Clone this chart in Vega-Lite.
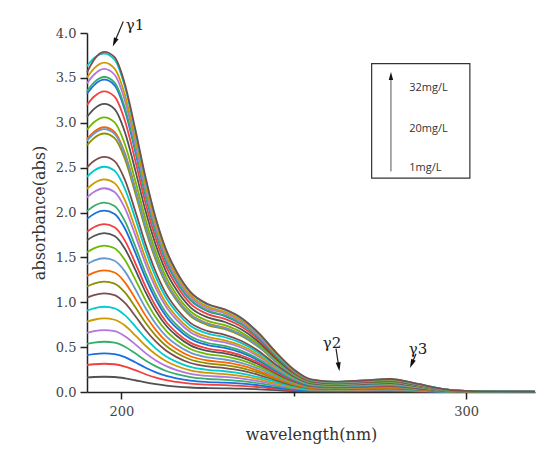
{
  "$schema": "https://vega.github.io/schema/vega-lite/v6.json",
  "width": 448,
  "height": 359,
  "autosize": {"type": "none"},
  "padding": {"left": 87, "top": 33, "right": 15, "bottom": 66},
  "background": "white",
  "config": {"view": {"stroke": null}},
  "datasets": {
    "spectra": [
{"c":1,"w":190,"a":0.162},{"c":1,"w":192,"a":0.167},{"c":1,"w":195,"a":0.170},{"c":1,"w":198,"a":0.167},{"c":1,"w":201,"a":0.153},{"c":1,"w":204,"a":0.131},{"c":1,"w":207,"a":0.107},{"c":1,"w":210,"a":0.087},{"c":1,"w":213,"a":0.071},{"c":1,"w":216,"a":0.060},{"c":1,"w":220,"a":0.050},{"c":1,"w":225,"a":0.044},{"c":1,"w":230,"a":0.041},{"c":1,"w":235,"a":0.037},{"c":1,"w":240,"a":0.029},{"c":1,"w":245,"a":0.020},{"c":1,"w":250,"a":0.011},{"c":1,"w":255,"a":0.006},{"c":1,"w":262,"a":0.005},{"c":1,"w":270,"a":0.006},{"c":1,"w":278,"a":0.006},{"c":1,"w":286,"a":0.004},{"c":1,"w":294,"a":0.001},{"c":1,"w":302,"a":0.000},{"c":1,"w":320,"a":0.000},
{"c":2,"w":190,"a":0.301},{"c":2,"w":192,"a":0.309},{"c":2,"w":195,"a":0.315},{"c":2,"w":198,"a":0.309},{"c":2,"w":201,"a":0.284},{"c":2,"w":204,"a":0.243},{"c":2,"w":207,"a":0.198},{"c":2,"w":210,"a":0.160},{"c":2,"w":213,"a":0.131},{"c":2,"w":216,"a":0.112},{"c":2,"w":220,"a":0.093},{"c":2,"w":225,"a":0.082},{"c":2,"w":230,"a":0.077},{"c":2,"w":235,"a":0.068},{"c":2,"w":240,"a":0.054},{"c":2,"w":245,"a":0.036},{"c":2,"w":250,"a":0.021},{"c":2,"w":255,"a":0.012},{"c":2,"w":262,"a":0.009},{"c":2,"w":270,"a":0.011},{"c":2,"w":278,"a":0.012},{"c":2,"w":286,"a":0.008},{"c":2,"w":294,"a":0.003},{"c":2,"w":302,"a":0.001},{"c":2,"w":320,"a":0.000},
{"c":3,"w":190,"a":0.411},{"c":3,"w":192,"a":0.422},{"c":3,"w":195,"a":0.430},{"c":3,"w":198,"a":0.422},{"c":3,"w":201,"a":0.388},{"c":3,"w":204,"a":0.331},{"c":3,"w":207,"a":0.270},{"c":3,"w":210,"a":0.219},{"c":3,"w":213,"a":0.179},{"c":3,"w":216,"a":0.152},{"c":3,"w":220,"a":0.126},{"c":3,"w":225,"a":0.111},{"c":3,"w":230,"a":0.104},{"c":3,"w":235,"a":0.093},{"c":3,"w":240,"a":0.074},{"c":3,"w":245,"a":0.049},{"c":3,"w":250,"a":0.028},{"c":3,"w":255,"a":0.016},{"c":3,"w":262,"a":0.013},{"c":3,"w":270,"a":0.015},{"c":3,"w":278,"a":0.016},{"c":3,"w":286,"a":0.010},{"c":3,"w":294,"a":0.003},{"c":3,"w":302,"a":0.001},{"c":3,"w":320,"a":0.000},
{"c":4,"w":190,"a":0.535},{"c":4,"w":192,"a":0.550},{"c":4,"w":195,"a":0.560},{"c":4,"w":198,"a":0.550},{"c":4,"w":201,"a":0.505},{"c":4,"w":204,"a":0.431},{"c":4,"w":207,"a":0.352},{"c":4,"w":210,"a":0.285},{"c":4,"w":213,"a":0.234},{"c":4,"w":216,"a":0.198},{"c":4,"w":220,"a":0.165},{"c":4,"w":225,"a":0.145},{"c":4,"w":230,"a":0.136},{"c":4,"w":235,"a":0.121},{"c":4,"w":240,"a":0.096},{"c":4,"w":245,"a":0.064},{"c":4,"w":250,"a":0.037},{"c":4,"w":255,"a":0.021},{"c":4,"w":262,"a":0.017},{"c":4,"w":270,"a":0.019},{"c":4,"w":278,"a":0.021},{"c":4,"w":286,"a":0.013},{"c":4,"w":294,"a":0.004},{"c":4,"w":302,"a":0.001},{"c":4,"w":320,"a":0.000},
{"c":5,"w":190,"a":0.659},{"c":5,"w":192,"a":0.678},{"c":5,"w":195,"a":0.690},{"c":5,"w":198,"a":0.678},{"c":5,"w":201,"a":0.622},{"c":5,"w":204,"a":0.531},{"c":5,"w":207,"a":0.433},{"c":5,"w":210,"a":0.351},{"c":5,"w":213,"a":0.288},{"c":5,"w":216,"a":0.244},{"c":5,"w":220,"a":0.203},{"c":5,"w":225,"a":0.179},{"c":5,"w":230,"a":0.168},{"c":5,"w":235,"a":0.149},{"c":5,"w":240,"a":0.119},{"c":5,"w":245,"a":0.079},{"c":5,"w":250,"a":0.046},{"c":5,"w":255,"a":0.026},{"c":5,"w":262,"a":0.021},{"c":5,"w":270,"a":0.023},{"c":5,"w":278,"a":0.026},{"c":5,"w":286,"a":0.017},{"c":5,"w":294,"a":0.006},{"c":5,"w":302,"a":0.002},{"c":5,"w":320,"a":0.001},
{"c":6,"w":190,"a":0.783},{"c":6,"w":192,"a":0.805},{"c":6,"w":195,"a":0.820},{"c":6,"w":198,"a":0.805},{"c":6,"w":201,"a":0.740},{"c":6,"w":204,"a":0.631},{"c":6,"w":207,"a":0.515},{"c":6,"w":210,"a":0.417},{"c":6,"w":213,"a":0.342},{"c":6,"w":216,"a":0.290},{"c":6,"w":220,"a":0.241},{"c":6,"w":225,"a":0.212},{"c":6,"w":230,"a":0.199},{"c":6,"w":235,"a":0.177},{"c":6,"w":240,"a":0.141},{"c":6,"w":245,"a":0.094},{"c":6,"w":250,"a":0.054},{"c":6,"w":255,"a":0.030},{"c":6,"w":262,"a":0.025},{"c":6,"w":270,"a":0.028},{"c":6,"w":278,"a":0.031},{"c":6,"w":286,"a":0.020},{"c":6,"w":294,"a":0.007},{"c":6,"w":302,"a":0.002},{"c":6,"w":320,"a":0.001},
{"c":7,"w":190,"a":0.907},{"c":7,"w":192,"a":0.933},{"c":7,"w":195,"a":0.950},{"c":7,"w":198,"a":0.933},{"c":7,"w":201,"a":0.857},{"c":7,"w":204,"a":0.732},{"c":7,"w":207,"a":0.597},{"c":7,"w":210,"a":0.484},{"c":7,"w":213,"a":0.396},{"c":7,"w":216,"a":0.336},{"c":7,"w":220,"a":0.279},{"c":7,"w":225,"a":0.246},{"c":7,"w":230,"a":0.231},{"c":7,"w":235,"a":0.205},{"c":7,"w":240,"a":0.163},{"c":7,"w":245,"a":0.109},{"c":7,"w":250,"a":0.063},{"c":7,"w":255,"a":0.035},{"c":7,"w":262,"a":0.029},{"c":7,"w":270,"a":0.032},{"c":7,"w":278,"a":0.036},{"c":7,"w":286,"a":0.023},{"c":7,"w":294,"a":0.008},{"c":7,"w":302,"a":0.002},{"c":7,"w":320,"a":0.001},
{"c":8,"w":190,"a":1.051},{"c":8,"w":192,"a":1.080},{"c":8,"w":195,"a":1.100},{"c":8,"w":198,"a":1.080},{"c":8,"w":201,"a":0.992},{"c":8,"w":204,"a":0.847},{"c":8,"w":207,"a":0.691},{"c":8,"w":210,"a":0.560},{"c":8,"w":213,"a":0.459},{"c":8,"w":216,"a":0.389},{"c":8,"w":220,"a":0.323},{"c":8,"w":225,"a":0.285},{"c":8,"w":230,"a":0.267},{"c":8,"w":235,"a":0.238},{"c":8,"w":240,"a":0.189},{"c":8,"w":245,"a":0.127},{"c":8,"w":250,"a":0.073},{"c":8,"w":255,"a":0.041},{"c":8,"w":262,"a":0.033},{"c":8,"w":270,"a":0.037},{"c":8,"w":278,"a":0.042},{"c":8,"w":286,"a":0.026},{"c":8,"w":294,"a":0.009},{"c":8,"w":302,"a":0.003},{"c":8,"w":320,"a":0.001},
{"c":9,"w":190,"a":1.175},{"c":9,"w":192,"a":1.208},{"c":9,"w":195,"a":1.230},{"c":9,"w":198,"a":1.208},{"c":9,"w":201,"a":1.109},{"c":9,"w":204,"a":0.947},{"c":9,"w":207,"a":0.772},{"c":9,"w":210,"a":0.626},{"c":9,"w":213,"a":0.513},{"c":9,"w":216,"a":0.435},{"c":9,"w":220,"a":0.362},{"c":9,"w":225,"a":0.319},{"c":9,"w":230,"a":0.299},{"c":9,"w":235,"a":0.266},{"c":9,"w":240,"a":0.212},{"c":9,"w":245,"a":0.141},{"c":9,"w":250,"a":0.081},{"c":9,"w":255,"a":0.046},{"c":9,"w":262,"a":0.037},{"c":9,"w":270,"a":0.042},{"c":9,"w":278,"a":0.047},{"c":9,"w":286,"a":0.030},{"c":9,"w":294,"a":0.010},{"c":9,"w":302,"a":0.003},{"c":9,"w":320,"a":0.001},
{"c":10,"w":190,"a":1.294},{"c":10,"w":192,"a":1.331},{"c":10,"w":195,"a":1.355},{"c":10,"w":198,"a":1.331},{"c":10,"w":201,"a":1.222},{"c":10,"w":204,"a":1.043},{"c":10,"w":207,"a":0.851},{"c":10,"w":210,"a":0.690},{"c":10,"w":213,"a":0.565},{"c":10,"w":216,"a":0.480},{"c":10,"w":220,"a":0.398},{"c":10,"w":225,"a":0.351},{"c":10,"w":230,"a":0.329},{"c":10,"w":235,"a":0.293},{"c":10,"w":240,"a":0.233},{"c":10,"w":245,"a":0.156},{"c":10,"w":250,"a":0.089},{"c":10,"w":255,"a":0.050},{"c":10,"w":262,"a":0.041},{"c":10,"w":270,"a":0.046},{"c":10,"w":278,"a":0.051},{"c":10,"w":286,"a":0.033},{"c":10,"w":294,"a":0.011},{"c":10,"w":302,"a":0.004},{"c":10,"w":320,"a":0.001},
{"c":11,"w":190,"a":1.423},{"c":11,"w":192,"a":1.463},{"c":11,"w":195,"a":1.490},{"c":11,"w":198,"a":1.463},{"c":11,"w":201,"a":1.344},{"c":11,"w":204,"a":1.147},{"c":11,"w":207,"a":0.936},{"c":11,"w":210,"a":0.758},{"c":11,"w":213,"a":0.621},{"c":11,"w":216,"a":0.527},{"c":11,"w":220,"a":0.438},{"c":11,"w":225,"a":0.386},{"c":11,"w":230,"a":0.362},{"c":11,"w":235,"a":0.322},{"c":11,"w":240,"a":0.256},{"c":11,"w":245,"a":0.171},{"c":11,"w":250,"a":0.098},{"c":11,"w":255,"a":0.055},{"c":11,"w":262,"a":0.045},{"c":11,"w":270,"a":0.051},{"c":11,"w":278,"a":0.057},{"c":11,"w":286,"a":0.036},{"c":11,"w":294,"a":0.012},{"c":11,"w":302,"a":0.004},{"c":11,"w":320,"a":0.001},
{"c":12,"w":190,"a":1.557},{"c":12,"w":192,"a":1.601},{"c":12,"w":195,"a":1.630},{"c":12,"w":198,"a":1.601},{"c":12,"w":201,"a":1.470},{"c":12,"w":204,"a":1.255},{"c":12,"w":207,"a":1.024},{"c":12,"w":210,"a":0.830},{"c":12,"w":213,"a":0.680},{"c":12,"w":216,"a":0.577},{"c":12,"w":220,"a":0.479},{"c":12,"w":225,"a":0.422},{"c":12,"w":230,"a":0.396},{"c":12,"w":235,"a":0.352},{"c":12,"w":240,"a":0.280},{"c":12,"w":245,"a":0.187},{"c":12,"w":250,"a":0.108},{"c":12,"w":255,"a":0.060},{"c":12,"w":262,"a":0.049},{"c":12,"w":270,"a":0.055},{"c":12,"w":278,"a":0.062},{"c":12,"w":286,"a":0.039},{"c":12,"w":294,"a":0.013},{"c":12,"w":302,"a":0.004},{"c":12,"w":320,"a":0.001},
{"c":13,"w":190,"a":1.690},{"c":13,"w":192,"a":1.738},{"c":13,"w":195,"a":1.770},{"c":13,"w":198,"a":1.738},{"c":13,"w":201,"a":1.597},{"c":13,"w":204,"a":1.363},{"c":13,"w":207,"a":1.112},{"c":13,"w":210,"a":0.901},{"c":13,"w":213,"a":0.738},{"c":13,"w":216,"a":0.627},{"c":13,"w":220,"a":0.520},{"c":13,"w":225,"a":0.458},{"c":13,"w":230,"a":0.430},{"c":13,"w":235,"a":0.382},{"c":13,"w":240,"a":0.304},{"c":13,"w":245,"a":0.204},{"c":13,"w":250,"a":0.117},{"c":13,"w":255,"a":0.065},{"c":13,"w":262,"a":0.053},{"c":13,"w":270,"a":0.060},{"c":13,"w":278,"a":0.067},{"c":13,"w":286,"a":0.042},{"c":13,"w":294,"a":0.014},{"c":13,"w":302,"a":0.005},{"c":13,"w":320,"a":0.001},
{"c":14,"w":190,"a":1.786},{"c":14,"w":192,"a":1.836},{"c":14,"w":195,"a":1.870},{"c":14,"w":198,"a":1.836},{"c":14,"w":201,"a":1.687},{"c":14,"w":204,"a":1.440},{"c":14,"w":207,"a":1.174},{"c":14,"w":210,"a":0.952},{"c":14,"w":213,"a":0.780},{"c":14,"w":216,"a":0.662},{"c":14,"w":220,"a":0.550},{"c":14,"w":225,"a":0.484},{"c":14,"w":230,"a":0.454},{"c":14,"w":235,"a":0.404},{"c":14,"w":240,"a":0.322},{"c":14,"w":245,"a":0.215},{"c":14,"w":250,"a":0.123},{"c":14,"w":255,"a":0.069},{"c":14,"w":262,"a":0.056},{"c":14,"w":270,"a":0.064},{"c":14,"w":278,"a":0.071},{"c":14,"w":286,"a":0.045},{"c":14,"w":294,"a":0.015},{"c":14,"w":302,"a":0.005},{"c":14,"w":320,"a":0.001},
{"c":15,"w":190,"a":1.929},{"c":15,"w":192,"a":1.984},{"c":15,"w":195,"a":2.020},{"c":15,"w":198,"a":1.984},{"c":15,"w":201,"a":1.822},{"c":15,"w":204,"a":1.555},{"c":15,"w":207,"a":1.269},{"c":15,"w":210,"a":1.028},{"c":15,"w":213,"a":0.842},{"c":15,"w":216,"a":0.715},{"c":15,"w":220,"a":0.594},{"c":15,"w":225,"a":0.523},{"c":15,"w":230,"a":0.491},{"c":15,"w":235,"a":0.436},{"c":15,"w":240,"a":0.347},{"c":15,"w":245,"a":0.232},{"c":15,"w":250,"a":0.133},{"c":15,"w":255,"a":0.075},{"c":15,"w":262,"a":0.061},{"c":15,"w":270,"a":0.069},{"c":15,"w":278,"a":0.077},{"c":15,"w":286,"a":0.048},{"c":15,"w":294,"a":0.016},{"c":15,"w":302,"a":0.005},{"c":15,"w":320,"a":0.002},
{"c":16,"w":190,"a":2.015},{"c":16,"w":192,"a":2.072},{"c":16,"w":195,"a":2.110},{"c":16,"w":198,"a":2.072},{"c":16,"w":201,"a":1.903},{"c":16,"w":204,"a":1.625},{"c":16,"w":207,"a":1.325},{"c":16,"w":210,"a":1.074},{"c":16,"w":213,"a":0.880},{"c":16,"w":216,"a":0.747},{"c":16,"w":220,"a":0.620},{"c":16,"w":225,"a":0.546},{"c":16,"w":230,"a":0.513},{"c":16,"w":235,"a":0.456},{"c":16,"w":240,"a":0.363},{"c":16,"w":245,"a":0.243},{"c":16,"w":250,"a":0.139},{"c":16,"w":255,"a":0.078},{"c":16,"w":262,"a":0.063},{"c":16,"w":270,"a":0.072},{"c":16,"w":278,"a":0.080},{"c":16,"w":286,"a":0.051},{"c":16,"w":294,"a":0.017},{"c":16,"w":302,"a":0.005},{"c":16,"w":320,"a":0.002},
{"c":17,"w":190,"a":2.168},{"c":17,"w":192,"a":2.229},{"c":17,"w":195,"a":2.270},{"c":17,"w":198,"a":2.229},{"c":17,"w":201,"a":2.048},{"c":17,"w":204,"a":1.748},{"c":17,"w":207,"a":1.426},{"c":17,"w":210,"a":1.155},{"c":17,"w":213,"a":0.947},{"c":17,"w":216,"a":0.804},{"c":17,"w":220,"a":0.667},{"c":17,"w":225,"a":0.588},{"c":17,"w":230,"a":0.552},{"c":17,"w":235,"a":0.490},{"c":17,"w":240,"a":0.390},{"c":17,"w":245,"a":0.261},{"c":17,"w":250,"a":0.150},{"c":17,"w":255,"a":0.084},{"c":17,"w":262,"a":0.068},{"c":17,"w":270,"a":0.077},{"c":17,"w":278,"a":0.086},{"c":17,"w":286,"a":0.054},{"c":17,"w":294,"a":0.018},{"c":17,"w":302,"a":0.006},{"c":17,"w":320,"a":0.002},
{"c":18,"w":190,"a":2.263},{"c":18,"w":192,"a":2.327},{"c":18,"w":195,"a":2.370},{"c":18,"w":198,"a":2.327},{"c":18,"w":201,"a":2.138},{"c":18,"w":204,"a":1.825},{"c":18,"w":207,"a":1.488},{"c":18,"w":210,"a":1.206},{"c":18,"w":213,"a":0.988},{"c":18,"w":216,"a":0.839},{"c":18,"w":220,"a":0.697},{"c":18,"w":225,"a":0.614},{"c":18,"w":230,"a":0.576},{"c":18,"w":235,"a":0.512},{"c":18,"w":240,"a":0.408},{"c":18,"w":245,"a":0.273},{"c":18,"w":250,"a":0.156},{"c":18,"w":255,"a":0.088},{"c":18,"w":262,"a":0.071},{"c":18,"w":270,"a":0.081},{"c":18,"w":278,"a":0.090},{"c":18,"w":286,"a":0.057},{"c":18,"w":294,"a":0.019},{"c":18,"w":302,"a":0.006},{"c":18,"w":320,"a":0.002},
{"c":19,"w":190,"a":2.397},{"c":19,"w":192,"a":2.465},{"c":19,"w":195,"a":2.510},{"c":19,"w":198,"a":2.465},{"c":19,"w":201,"a":2.264},{"c":19,"w":204,"a":1.933},{"c":19,"w":207,"a":1.576},{"c":19,"w":210,"a":1.278},{"c":19,"w":213,"a":1.047},{"c":19,"w":216,"a":0.889},{"c":19,"w":220,"a":0.738},{"c":19,"w":225,"a":0.650},{"c":19,"w":230,"a":0.610},{"c":19,"w":235,"a":0.542},{"c":19,"w":240,"a":0.432},{"c":19,"w":245,"a":0.289},{"c":19,"w":250,"a":0.166},{"c":19,"w":255,"a":0.093},{"c":19,"w":262,"a":0.075},{"c":19,"w":270,"a":0.085},{"c":19,"w":278,"a":0.095},{"c":19,"w":286,"a":0.060},{"c":19,"w":294,"a":0.020},{"c":19,"w":302,"a":0.007},{"c":19,"w":320,"a":0.002},
{"c":20,"w":190,"a":2.502},{"c":20,"w":192,"a":2.573},{"c":20,"w":195,"a":2.620},{"c":20,"w":198,"a":2.573},{"c":20,"w":201,"a":2.363},{"c":20,"w":204,"a":2.017},{"c":20,"w":207,"a":1.645},{"c":20,"w":210,"a":1.334},{"c":20,"w":213,"a":1.093},{"c":20,"w":216,"a":0.927},{"c":20,"w":220,"a":0.770},{"c":20,"w":225,"a":0.679},{"c":20,"w":230,"a":0.637},{"c":20,"w":235,"a":0.566},{"c":20,"w":240,"a":0.451},{"c":20,"w":245,"a":0.301},{"c":20,"w":250,"a":0.173},{"c":20,"w":255,"a":0.097},{"c":20,"w":262,"a":0.079},{"c":20,"w":270,"a":0.089},{"c":20,"w":278,"a":0.100},{"c":20,"w":286,"a":0.063},{"c":20,"w":294,"a":0.021},{"c":20,"w":302,"a":0.007},{"c":20,"w":320,"a":0.002},
{"c":21,"w":190,"a":2.750},{"c":21,"w":192,"a":2.828},{"c":21,"w":195,"a":2.880},{"c":21,"w":198,"a":2.828},{"c":21,"w":201,"a":2.598},{"c":21,"w":204,"a":2.218},{"c":21,"w":207,"a":1.809},{"c":21,"w":210,"a":1.466},{"c":21,"w":213,"a":1.201},{"c":21,"w":216,"a":1.020},{"c":21,"w":220,"a":0.847},{"c":21,"w":225,"a":0.746},{"c":21,"w":230,"a":0.700},{"c":21,"w":235,"a":0.622},{"c":21,"w":240,"a":0.495},{"c":21,"w":245,"a":0.331},{"c":21,"w":250,"a":0.190},{"c":21,"w":255,"a":0.107},{"c":21,"w":262,"a":0.086},{"c":21,"w":270,"a":0.098},{"c":21,"w":278,"a":0.109},{"c":21,"w":286,"a":0.069},{"c":21,"w":294,"a":0.023},{"c":21,"w":302,"a":0.007},{"c":21,"w":320,"a":0.002},
{"c":22,"w":190,"a":2.817},{"c":22,"w":192,"a":2.897},{"c":22,"w":195,"a":2.950},{"c":22,"w":198,"a":2.897},{"c":22,"w":201,"a":2.661},{"c":22,"w":204,"a":2.272},{"c":22,"w":207,"a":1.853},{"c":22,"w":210,"a":1.502},{"c":22,"w":213,"a":1.230},{"c":22,"w":216,"a":1.044},{"c":22,"w":220,"a":0.867},{"c":22,"w":225,"a":0.764},{"c":22,"w":230,"a":0.717},{"c":22,"w":235,"a":0.637},{"c":22,"w":240,"a":0.507},{"c":22,"w":245,"a":0.339},{"c":22,"w":250,"a":0.195},{"c":22,"w":255,"a":0.109},{"c":22,"w":262,"a":0.089},{"c":22,"w":270,"a":0.100},{"c":22,"w":278,"a":0.112},{"c":22,"w":286,"a":0.071},{"c":22,"w":294,"a":0.024},{"c":22,"w":302,"a":0.008},{"c":22,"w":320,"a":0.002},
{"c":23,"w":190,"a":2.798},{"c":23,"w":192,"a":2.877},{"c":23,"w":195,"a":2.930},{"c":23,"w":198,"a":2.877},{"c":23,"w":201,"a":2.643},{"c":23,"w":204,"a":2.256},{"c":23,"w":207,"a":1.840},{"c":23,"w":210,"a":1.491},{"c":23,"w":213,"a":1.222},{"c":23,"w":216,"a":1.037},{"c":23,"w":220,"a":0.861},{"c":23,"w":225,"a":0.759},{"c":23,"w":230,"a":0.712},{"c":23,"w":235,"a":0.633},{"c":23,"w":240,"a":0.504},{"c":23,"w":245,"a":0.337},{"c":23,"w":250,"a":0.193},{"c":23,"w":255,"a":0.108},{"c":23,"w":262,"a":0.088},{"c":23,"w":270,"a":0.100},{"c":23,"w":278,"a":0.111},{"c":23,"w":286,"a":0.070},{"c":23,"w":294,"a":0.023},{"c":23,"w":302,"a":0.008},{"c":23,"w":320,"a":0.002},
{"c":24,"w":190,"a":2.922},{"c":24,"w":192,"a":3.005},{"c":24,"w":195,"a":3.060},{"c":24,"w":198,"a":3.005},{"c":24,"w":201,"a":2.760},{"c":24,"w":204,"a":2.356},{"c":24,"w":207,"a":1.922},{"c":24,"w":210,"a":1.558},{"c":24,"w":213,"a":1.276},{"c":24,"w":216,"a":1.083},{"c":24,"w":220,"a":0.900},{"c":24,"w":225,"a":0.793},{"c":24,"w":230,"a":0.744},{"c":24,"w":235,"a":0.661},{"c":24,"w":240,"a":0.526},{"c":24,"w":245,"a":0.352},{"c":24,"w":250,"a":0.202},{"c":24,"w":255,"a":0.113},{"c":24,"w":262,"a":0.092},{"c":24,"w":270,"a":0.104},{"c":24,"w":278,"a":0.116},{"c":24,"w":286,"a":0.073},{"c":24,"w":294,"a":0.024},{"c":24,"w":302,"a":0.008},{"c":24,"w":320,"a":0.002},
{"c":25,"w":190,"a":3.066},{"c":25,"w":192,"a":3.152},{"c":25,"w":195,"a":3.210},{"c":25,"w":198,"a":3.152},{"c":25,"w":201,"a":2.895},{"c":25,"w":204,"a":2.472},{"c":25,"w":207,"a":2.016},{"c":25,"w":210,"a":1.634},{"c":25,"w":213,"a":1.339},{"c":25,"w":216,"a":1.136},{"c":25,"w":220,"a":0.944},{"c":25,"w":225,"a":0.831},{"c":25,"w":230,"a":0.780},{"c":25,"w":235,"a":0.693},{"c":25,"w":240,"a":0.552},{"c":25,"w":245,"a":0.369},{"c":25,"w":250,"a":0.212},{"c":25,"w":255,"a":0.119},{"c":25,"w":262,"a":0.096},{"c":25,"w":270,"a":0.109},{"c":25,"w":278,"a":0.122},{"c":25,"w":286,"a":0.077},{"c":25,"w":294,"a":0.026},{"c":25,"w":302,"a":0.008},{"c":25,"w":320,"a":0.003},
{"c":26,"w":190,"a":3.199},{"c":26,"w":192,"a":3.290},{"c":26,"w":195,"a":3.350},{"c":26,"w":198,"a":3.290},{"c":26,"w":201,"a":3.022},{"c":26,"w":204,"a":2.580},{"c":26,"w":207,"a":2.104},{"c":26,"w":210,"a":1.705},{"c":26,"w":213,"a":1.397},{"c":26,"w":216,"a":1.186},{"c":26,"w":220,"a":0.985},{"c":26,"w":225,"a":0.868},{"c":26,"w":230,"a":0.814},{"c":26,"w":235,"a":0.724},{"c":26,"w":240,"a":0.576},{"c":26,"w":245,"a":0.385},{"c":26,"w":250,"a":0.221},{"c":26,"w":255,"a":0.124},{"c":26,"w":262,"a":0.101},{"c":26,"w":270,"a":0.114},{"c":26,"w":278,"a":0.127},{"c":26,"w":286,"a":0.080},{"c":26,"w":294,"a":0.027},{"c":26,"w":302,"a":0.009},{"c":26,"w":320,"a":0.003},
{"c":27,"w":190,"a":3.323},{"c":27,"w":192,"a":3.417},{"c":27,"w":195,"a":3.480},{"c":27,"w":198,"a":3.417},{"c":27,"w":201,"a":3.139},{"c":27,"w":204,"a":2.680},{"c":27,"w":207,"a":2.185},{"c":27,"w":210,"a":1.771},{"c":27,"w":213,"a":1.451},{"c":27,"w":216,"a":1.232},{"c":27,"w":220,"a":1.023},{"c":27,"w":225,"a":0.901},{"c":27,"w":230,"a":0.846},{"c":27,"w":235,"a":0.752},{"c":27,"w":240,"a":0.599},{"c":27,"w":245,"a":0.400},{"c":27,"w":250,"a":0.230},{"c":27,"w":255,"a":0.129},{"c":27,"w":262,"a":0.104},{"c":27,"w":270,"a":0.118},{"c":27,"w":278,"a":0.132},{"c":27,"w":286,"a":0.084},{"c":27,"w":294,"a":0.028},{"c":27,"w":302,"a":0.009},{"c":27,"w":320,"a":0.003},
{"c":28,"w":190,"a":3.352},{"c":28,"w":192,"a":3.447},{"c":28,"w":195,"a":3.510},{"c":28,"w":198,"a":3.447},{"c":28,"w":201,"a":3.166},{"c":28,"w":204,"a":2.703},{"c":28,"w":207,"a":2.204},{"c":28,"w":210,"a":1.787},{"c":28,"w":213,"a":1.464},{"c":28,"w":216,"a":1.243},{"c":28,"w":220,"a":1.032},{"c":28,"w":225,"a":0.909},{"c":28,"w":230,"a":0.853},{"c":28,"w":235,"a":0.758},{"c":28,"w":240,"a":0.604},{"c":28,"w":245,"a":0.404},{"c":28,"w":250,"a":0.232},{"c":28,"w":255,"a":0.130},{"c":28,"w":262,"a":0.105},{"c":28,"w":270,"a":0.119},{"c":28,"w":278,"a":0.133},{"c":28,"w":286,"a":0.084},{"c":28,"w":294,"a":0.028},{"c":28,"w":302,"a":0.009},{"c":28,"w":320,"a":0.003},
{"c":29,"w":190,"a":3.438},{"c":29,"w":192,"a":3.535},{"c":29,"w":195,"a":3.600},{"c":29,"w":198,"a":3.535},{"c":29,"w":201,"a":3.247},{"c":29,"w":204,"a":2.772},{"c":29,"w":207,"a":2.261},{"c":29,"w":210,"a":1.832},{"c":29,"w":213,"a":1.501},{"c":29,"w":216,"a":1.274},{"c":29,"w":220,"a":1.058},{"c":29,"w":225,"a":0.932},{"c":29,"w":230,"a":0.875},{"c":29,"w":235,"a":0.778},{"c":29,"w":240,"a":0.619},{"c":29,"w":245,"a":0.414},{"c":29,"w":250,"a":0.238},{"c":29,"w":255,"a":0.133},{"c":29,"w":262,"a":0.108},{"c":29,"w":270,"a":0.122},{"c":29,"w":278,"a":0.137},{"c":29,"w":286,"a":0.086},{"c":29,"w":294,"a":0.029},{"c":29,"w":302,"a":0.009},{"c":29,"w":320,"a":0.003},
{"c":30,"w":190,"a":3.505},{"c":30,"w":192,"a":3.604},{"c":30,"w":195,"a":3.670},{"c":30,"w":198,"a":3.604},{"c":30,"w":201,"a":3.310},{"c":30,"w":204,"a":2.826},{"c":30,"w":207,"a":2.305},{"c":30,"w":210,"a":1.868},{"c":30,"w":213,"a":1.530},{"c":30,"w":216,"a":1.299},{"c":30,"w":220,"a":1.079},{"c":30,"w":225,"a":0.951},{"c":30,"w":230,"a":0.892},{"c":30,"w":235,"a":0.793},{"c":30,"w":240,"a":0.631},{"c":30,"w":245,"a":0.422},{"c":30,"w":250,"a":0.242},{"c":30,"w":255,"a":0.136},{"c":30,"w":262,"a":0.110},{"c":30,"w":270,"a":0.125},{"c":30,"w":278,"a":0.139},{"c":30,"w":286,"a":0.088},{"c":30,"w":294,"a":0.029},{"c":30,"w":302,"a":0.010},{"c":30,"w":320,"a":0.003},
{"c":31,"w":190,"a":3.630},{"c":31,"w":192,"a":3.720},{"c":31,"w":195,"a":3.770},{"c":31,"w":198,"a":3.702},{"c":31,"w":201,"a":3.401},{"c":31,"w":204,"a":2.903},{"c":31,"w":207,"a":2.368},{"c":31,"w":210,"a":1.919},{"c":31,"w":213,"a":1.572},{"c":31,"w":216,"a":1.335},{"c":31,"w":220,"a":1.108},{"c":31,"w":225,"a":0.976},{"c":31,"w":230,"a":0.916},{"c":31,"w":235,"a":0.814},{"c":31,"w":240,"a":0.648},{"c":31,"w":245,"a":0.434},{"c":31,"w":250,"a":0.249},{"c":31,"w":255,"a":0.139},{"c":31,"w":262,"a":0.113},{"c":31,"w":270,"a":0.128},{"c":31,"w":278,"a":0.143},{"c":31,"w":286,"a":0.090},{"c":31,"w":294,"a":0.030},{"c":31,"w":302,"a":0.010},{"c":31,"w":320,"a":0.003},
{"c":32,"w":190,"a":3.560},{"c":32,"w":192,"a":3.700},{"c":32,"w":195,"a":3.790},{"c":32,"w":198,"a":3.730},{"c":32,"w":201,"a":3.430},{"c":32,"w":204,"a":2.930},{"c":32,"w":207,"a":2.390},{"c":32,"w":210,"a":1.930},{"c":32,"w":213,"a":1.580},{"c":32,"w":216,"a":1.340},{"c":32,"w":220,"a":1.115},{"c":32,"w":225,"a":0.980},{"c":32,"w":230,"a":0.920},{"c":32,"w":235,"a":0.820},{"c":32,"w":240,"a":0.650},{"c":32,"w":245,"a":0.435},{"c":32,"w":250,"a":0.250},{"c":32,"w":255,"a":0.140},{"c":32,"w":262,"a":0.115},{"c":32,"w":270,"a":0.128},{"c":32,"w":278,"a":0.145},{"c":32,"w":286,"a":0.090},{"c":32,"w":294,"a":0.030},{"c":32,"w":302,"a":0.010},{"c":32,"w":320,"a":0.003}
    ]
  },
  "layer": [
    {
      "data": {"name": "spectra"},
      "mark": {"type": "line", "interpolate": "monotone", "strokeWidth": 1.8},
      "encoding": {
        "x": {
          "field": "w", "type": "quantitative",
          "scale": {"domain": [190, 320], "nice": false, "zero": false},
          "axis": {
            "title": "wavelength(nm)",
            "values": [200, 250, 300],
            "labelExpr": "datum.value == 250 ? '' : datum.label",
            "tickSize": {"condition": {"test": "datum.value == 250", "value": 4}, "value": 7},
            "grid": false,
            "domainColor": "#222", "domainWidth": 1.5,
            "tickColor": "#222", "tickWidth": 1.5,
            "labelFont": "DejaVu Serif", "labelFontSize": 13, "labelColor": "#444",
            "labelPadding": 6, "labelOverlap": false,
            "titleFont": "DejaVu Serif", "titleFontSize": 16, "titleFontWeight": "normal",
            "titleColor": "#333", "titlePadding": 8
          }
        },
        "y": {
          "field": "a", "type": "quantitative",
          "scale": {"domain": [0, 4], "nice": false},
          "axis": {
            "title": "absorbance(abs)",
            "values": [0, 0.25, 0.5, 0.75, 1, 1.25, 1.5, 1.75, 2, 2.25, 2.5, 2.75, 3, 3.25, 3.5, 3.75, 4],
            "labelExpr": "datum.value % 0.5 != 0 ? '' : format(datum.value, '.1f')",
            "tickSize": {"condition": {"test": "datum.value % 0.5 != 0", "value": 4}, "value": 7},
            "grid": false,
            "domainColor": "#222", "domainWidth": 1.5,
            "tickColor": "#222", "tickWidth": 1.5,
            "labelFont": "DejaVu Serif", "labelFontSize": 13, "labelColor": "#444",
            "labelPadding": 4, "labelOverlap": false,
            "titleFont": "DejaVu Serif", "titleFontSize": 16, "titleFontWeight": "normal",
            "titleColor": "#333", "titlePadding": 8
          }
        },
        "color": {
          "field": "c", "type": "nominal", "legend": null,
          "scale": {
            "domain": [1,2,3,4,5,6,7,8,9,10,11,12,13,14,15,16,17,18,19,20,21,22,23,24,25,26,27,28,29,30,31,32],
            "range": ["#515151","#F14040","#1A6FDF","#37AD6B","#B177DE","#CC9900","#00CBCC","#7D4E4E","#8E8E00","#FB6501","#6699CC","#6FB802",
                      "#515151","#F14040","#1A6FDF","#37AD6B","#B177DE","#CC9900","#00CBCC","#7D4E4E","#8E8E00","#FB6501","#6699CC","#6FB802",
                      "#515151","#F14040","#1A6FDF","#37AD6B","#B177DE","#CC9900","#00CBCC","#7D4E4E"]
          }
        }
      }
    },
    {
      "data": {"values": [
        {"w": 272.6, "a": 2.384, "w2": 301.1, "a2": 3.658}
      ]},
      "mark": {"type": "rect", "fill": null, "fillOpacity": 0, "stroke": "#333", "strokeWidth": 1.2},
      "encoding": {
        "x": {"field": "w", "type": "quantitative"},
        "x2": {"field": "w2"},
        "y": {"field": "a", "type": "quantitative"},
        "y2": {"field": "a2"}
      }
    },
    {
      "data": {"values": [
        {"w": 200.53, "a": 4.129, "w2": 197.98, "a2": 3.896},
        {"w": 262.26, "a": 0.483, "w2": 263.07, "a2": 0.280},
        {"w": 285.47, "a": 0.427, "w2": 284.23, "a2": 0.313}
      ]},
      "mark": {"type": "rule", "color": "#222", "strokeWidth": 1.2},
      "encoding": {
        "x": {"field": "w", "type": "quantitative"},
        "x2": {"field": "w2"},
        "y": {"field": "a", "type": "quantitative"},
        "y2": {"field": "a2"}
      }
    },
    {
      "data": {"values": [
        {"w": 278.2, "a": 2.458, "w2": 278.2, "a2": 3.52}
      ]},
      "mark": {"type": "rule", "color": "#555", "strokeWidth": 1},
      "encoding": {
        "x": {"field": "w", "type": "quantitative"},
        "x2": {"field": "w2"},
        "y": {"field": "a", "type": "quantitative"},
        "y2": {"field": "a2"}
      }
    },
    {
      "data": {"values": [{"w": 197.98, "a": 3.896}]},
      "mark": {"type": "point", "shape": "M-0.55,-1L0.55,-1L0,1Z", "size": 81, "filled": true, "color": "#111", "opacity": 1, "angle": 23},
      "encoding": {
        "x": {"field": "w", "type": "quantitative"},
        "y": {"field": "a", "type": "quantitative"}
      }
    },
    {
      "data": {"values": [{"w": 263.07, "a": 0.280}]},
      "mark": {"type": "point", "shape": "M-0.55,-1L0.55,-1L0,1Z", "size": 81, "filled": true, "color": "#111", "opacity": 1, "angle": 352},
      "encoding": {
        "x": {"field": "w", "type": "quantitative"},
        "y": {"field": "a", "type": "quantitative"}
      }
    },
    {
      "data": {"values": [{"w": 284.23, "a": 0.313}]},
      "mark": {"type": "point", "shape": "M-0.55,-1L0.55,-1L0,1Z", "size": 81, "filled": true, "color": "#111", "opacity": 1, "angle": 23},
      "encoding": {
        "x": {"field": "w", "type": "quantitative"},
        "y": {"field": "a", "type": "quantitative"}
      }
    },
    {
      "data": {"values": [{"w": 278.2, "a": 3.52}]},
      "mark": {"type": "point", "shape": "M-0.55,-1L0.55,-1L0,1Z", "size": 64, "filled": true, "color": "#111", "opacity": 1, "angle": 180},
      "encoding": {
        "x": {"field": "w", "type": "quantitative"},
        "y": {"field": "a", "type": "quantitative"}
      }
    },
    {
      "data": {"values": [
        {"w": 203.93, "a": 4.093, "t": "γ1"},
        {"w": 261.1, "a": 0.549, "t": "γ2"},
        {"w": 286.05, "a": 0.483, "t": "γ3"}
      ]},
      "mark": {"type": "text", "font": "DejaVu Serif", "fontSize": 15, "color": "#222", "align": "center", "baseline": "middle"},
      "encoding": {
        "x": {"field": "w", "type": "quantitative"},
        "y": {"field": "a", "type": "quantitative"},
        "text": {"field": "t"}
      }
    },
    {
      "data": {"values": [
        {"w": 283.5, "a": 3.39, "t": "32mg/L"},
        {"w": 283.5, "a": 2.928, "t": "20mg/L"},
        {"w": 283.5, "a": 2.499, "t": "1mg/L"}
      ]},
      "mark": {"type": "text", "font": "Open Sans", "fontSize": 11, "color": "#333", "align": "left", "baseline": "middle"},
      "encoding": {
        "x": {"field": "w", "type": "quantitative"},
        "y": {"field": "a", "type": "quantitative"},
        "text": {"field": "t"}
      }
    }
  ]
}
